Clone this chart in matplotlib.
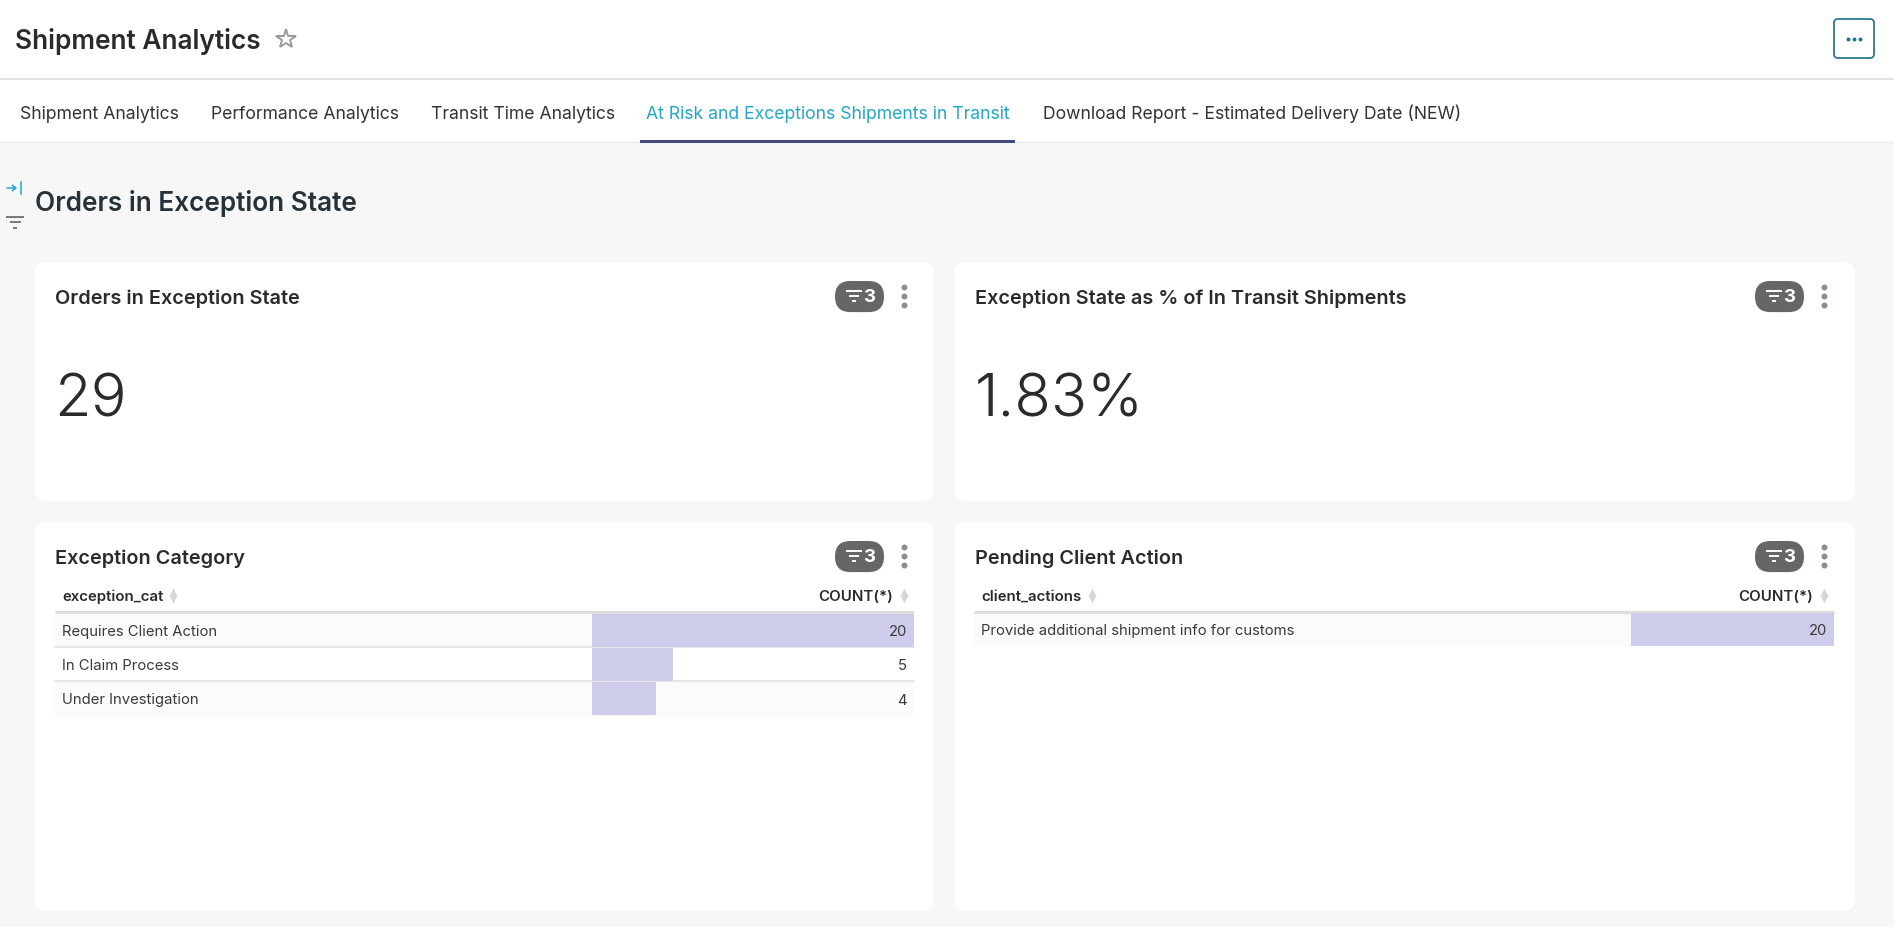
import matplotlib
matplotlib.use("Agg")
import matplotlib.pyplot as plt
from matplotlib.patches import FancyBboxPatch, Rectangle

plt.rcParams['font.family'] = ['Inter', 'DejaVu Sans']

W, H = 1894, 928

tabs = ["Shipment Analytics", "Performance Analytics", "Transit Time Analytics",
        "At Risk and Exceptions Shipments in Transit",
        "Download Report - Estimated Delivery Date (NEW)"]
tab_x = [20, 211, 431, 646, 1043]

kpi_titles = ["Orders in Exception State", "Exception State as % of In Transit Shipments"]
kpi_values = ["29", "1.83%"]

cat_labels = ["Requires Client Action", "In Claim Process", "Under Investigation"]
cat_counts = [20, 5, 4]
action_labels = ["Provide additional shipment info for customs"]
action_counts = [20]

DARK = "#2b2b2b"
TEAL = "#20a7c9"
BAR = "#cdcdeb"
LINE = "#e0e0e0"

fig = plt.figure(figsize=(W / 100, H / 100), dpi=100, facecolor="#f7f7f7")
ax = fig.add_axes([0, 0, 1, 1])
ax.set_xlim(0, W)
ax.set_ylim(H, 0)
ax.axis("off")


def card(x0, y0, x1, y1):
    ax.add_patch(FancyBboxPatch((x0 + 5, y0 + 5), x1 - x0 - 10, y1 - y0 - 10,
                                boxstyle="round,pad=0,rounding_size=5",
                                fc="white", ec="white", lw=7, zorder=1))


def filter_icon(cx, cy, scale, color, lw):
    for dx, dy, in [(8, -5), (5, 0), (2, 5)]:
        ax.plot([cx - dx * scale, cx + dx * scale], [cy + dy * scale] * 2, color=color,
                lw=lw, solid_capstyle="butt", zorder=5)


def card_header(title, x0, y, pill_x, kebab_x):
    ax.text(x0, y + 6, title, fontsize=14.3, fontweight=600, color=DARK, va="baseline", zorder=5)
    ax.add_patch(FancyBboxPatch((pill_x + 15.5, y - 0.5), 18, 0.1,
                                boxstyle="round,pad=15.5,rounding_size=15.4",
                                fc="#666666", ec="none", zorder=4))
    filter_icon(pill_x + 19, y - 1, 0.95, "white", 1.4)
    ax.text(pill_x + 34, y - 0.5, "3", fontsize=13.5, fontweight=700, color="white",
            ha="center", va="center", zorder=5)
    ax.plot([kebab_x] * 3, [y - 10, y - 1, y + 8], "o", ms=4.3, color="#8a8f94", mec="none", zorder=5)


def sort_arrows(x, y):
    ax.plot([x], [y - 3.5], "^", ms=5.5, color="#d6d6d6", mec="none", zorder=5)
    ax.plot([x], [y + 3.5], "v", ms=5.5, color="#d6d6d6", mec="none", zorder=5)


def table(x0, x1, bar_x0, labels, counts, col, col_arrow_x, count_arrow_x, count_right, row_edges):
    # header
    ax.text(x0 + 7, 601, col, fontsize=10.8, fontweight=600, color=DARK, va="baseline", zorder=5)
    sort_arrows(col_arrow_x, 596)
    ax.text(count_right, 601, "COUNT(*)", fontsize=10.9, fontweight=600, color=DARK,
            ha="right", va="baseline", zorder=5)
    sort_arrows(count_arrow_x, 596)
    ax.plot([x0, x1], [613, 613], color="#dddddd", lw=2.2, zorder=3, solid_capstyle="butt")
    # stripes behind the rows
    for i in range(len(labels)):
        top, bot = row_edges[i], row_edges[i + 1]
        if i % 2 == 0:
            ax.add_patch(Rectangle((x0, top), x1 - x0, bot - top, fc="#fbfbfb", ec="none", zorder=2))
        if i < len(labels) - 1:
            ax.plot([x0, x1], [bot, bot], color=LINE, lw=1.1, zorder=3)
        ax.text(x0 + 7, (top + bot) / 2 + 5, labels[i], fontsize=10.7, color="#3a3a3a",
                va="baseline", zorder=5)
    # cell bars on their own axes, scaled to the largest count
    top, bot = row_edges[0], row_edges[-1]
    bar_ax = fig.add_axes([bar_x0 / W, 1 - bot / H, (x1 - bar_x0) / W, (bot - top) / H],
                          zorder=0.5)
    bar_ax.patch.set_alpha(0)
    bar_ax.barh(range(len(counts)), counts, height=0.97, color=BAR)
    bar_ax.set_xlim(0, max(counts))
    bar_ax.set_ylim(len(counts) - 0.5, -0.5)
    bar_ax.axis("off")
    # the values sit on top of the bars, 7px in from the right edge
    for i, v in enumerate(counts):
        bar_ax.annotate(str(v), xy=(1, i), xycoords=bar_ax.get_yaxis_transform(),
                        xytext=(-5, -3.6), textcoords="offset points", fontsize=10.7,
                        color="#3a3a3a", ha="right", va="baseline")


# top bars
ax.add_patch(Rectangle((0, 0), W, 143, fc="white", ec="none", zorder=1))
ax.plot([0, W], [80, 80], color="#e2e2e2", lw=1.3, zorder=2)
ax.plot([0, W], [143, 143], color="#ececec", lw=1, zorder=2)
ax.text(15, 49, "Shipment Analytics", fontsize=18.9, fontweight=600, color=DARK, va="baseline", zorder=5)
ax.plot([286], [40], "*", ms=15, mfc="white", mec="#9a9a9a", mew=1.4, zorder=5)
ax.add_patch(FancyBboxPatch((1838, 24), 32, 31, boxstyle="round,pad=4,rounding_size=4",
                            fc="white", ec="#1b6f88", lw=1.2, zorder=5))
ax.plot([1848, 1854, 1860], [40, 40, 40], "o", ms=2.8, color="#1b6f88", mec="none", zorder=6)

for i in range(len(tabs)):
    ax.text(tab_x[i], 119, tabs[i], fontsize=12.65, color=TEAL if i == 3 else "#333333",
            va="baseline", zorder=5)
ax.add_patch(Rectangle((640, 141), 375, 3, fc="#414c7d", ec="none", zorder=3))

# side icons
ax.annotate("", xy=(17, 189), xytext=(7, 189),
            arrowprops=dict(arrowstyle="->,head_length=0.25,head_width=0.2", color=TEAL, lw=1.1,
                            shrinkA=0, shrinkB=0), zorder=5)
ax.plot([21, 21], [183, 195], color=TEAL, lw=1.1, zorder=5)
filter_icon(15, 223, 1.1, "#555555", 1.1)

ax.text(35, 211, "Orders in Exception State", fontsize=18.85, fontweight=600, color="#263238",
        va="baseline", zorder=5)

# cards
card(35, 263, 934, 502)
card(954, 263, 1855, 502)
card(35, 523, 934, 912)
card(954, 523, 1855, 912)

card_header(kpi_titles[0], 55, 298, 835, 904)
card_header(kpi_titles[1], 975, 298, 1755, 1824)
card_header("Exception Category", 55, 558, 835, 904)
card_header("Pending Client Action", 975, 558, 1755, 1824)

ax.text(54, 417, kpi_values[0], fontsize=43, fontweight=300, color=DARK, va="baseline", zorder=5)
ax.text(975, 417, kpi_values[1], fontsize=43, fontweight=300, color=DARK, va="baseline", zorder=5)

table(55, 914, 592, cat_labels, cat_counts, "exception_cat", 173, 904, 893, [614, 648, 682, 717])
table(974, 1834, 1631, action_labels, action_counts, "client_actions", 1092, 1824, 1813, [614, 647])

fig.savefig("out.png", dpi=100, facecolor=fig.get_facecolor())
